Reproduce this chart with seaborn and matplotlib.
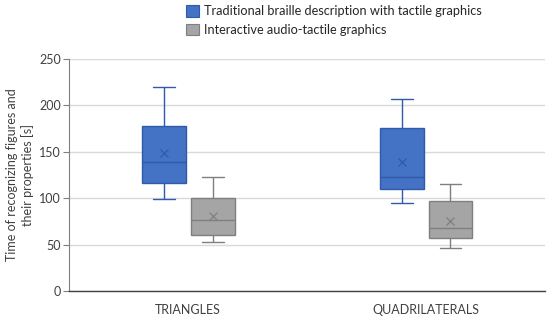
import pandas as pd
import seaborn as sns
import matplotlib.pyplot as plt
from matplotlib.patches import Patch

# Shapes on the x axis
shapes = ['TRIANGLES', 'QUADRILATERALS']
methods = ['Traditional braille description with tactile graphics',
           'Interactive audio-tactile graphics']

# Five-number summaries: min, Q1, median, Q3, max
braille_tri = [99.5, 116, 138.5, 178, 220]
braille_quad = [94.5, 110, 122.5, 175.5, 207]
audio_tri = [52.5, 60, 77, 100, 122.5]
audio_quad = [46.5, 57.5, 67.5, 96.5, 115]

# Means (the x markers)
braille_means = [148.5, 138.5]
audio_means = [80.5, 75]

fill_colors = ['#4472C4', '#A5A5A5']
line_colors = ['#2F5BAA', '#7F7F7F']


def main():
    rows = []
    for shape, vals in zip(shapes, [braille_tri, braille_quad]):
        rows += [{'Shape': shape, 'Method': methods[0], 'Time': v} for v in vals]
    for shape, vals in zip(shapes, [audio_tri, audio_quad]):
        rows += [{'Shape': shape, 'Method': methods[1], 'Time': v} for v in vals]
    df = pd.DataFrame(rows)

    means = pd.DataFrame({
        'Shape': shapes * 2,
        'Method': [methods[0]] * 2 + [methods[1]] * 2,
        'Time': braille_means + audio_means,
    })

    sns.set_style('white')
    plt.rcParams['font.family'] = ['Lato', 'DejaVu Sans']

    fig = plt.figure(figsize=(5.5, 3.17), dpi=100)
    ax = fig.add_axes([0.126, 0.082, 0.865, 0.732])

    sns.boxplot(data=df, x='Shape', y='Time', hue='Method', hue_order=methods,
                order=shapes, palette=fill_colors, linecolor=line_colors[1],
                width=0.41, gap=0.1, whis=10, linewidth=1.0,
                saturation=1, showfliers=False, legend=False, ax=ax)

    # colour box outlines, whiskers and medians by which side of the category they sit
    def side(xs):
        x = sum(xs) / len(xs)
        return 0 if x - round(x) < 0 else 1

    for p in ax.patches:
        verts = p.get_path().vertices
        p.set_edgecolor(line_colors[side(list(verts[:, 0]))])
    for ln in ax.lines:
        ln.set_color(line_colors[side(list(ln.get_xdata()))])

    sns.pointplot(data=means, x='Shape', y='Time', hue='Method',
                  hue_order=methods, order=shapes, palette=line_colors,
                  dodge=0.205, linestyle='none', marker='x', markersize=6,
                  markeredgewidth=0.9, errorbar=None, legend=False, ax=ax)

    ax.set_xlim(-0.5, 1.5)
    ax.set_ylim(0, 250)
    ax.set_yticks(range(0, 251, 50))
    ax.yaxis.grid(True, color='#D9D9D9', linewidth=1.0)
    ax.set_axisbelow(True)

    for s in ['top', 'right']:
        ax.spines[s].set_visible(False)
    ax.spines['left'].set_color('#7F7F7F')
    ax.spines['left'].set_linewidth(0.8)
    ax.spines['bottom'].set_color('#404040')
    ax.spines['bottom'].set_linewidth(1.0)
    ax.tick_params(axis='y', left=True, length=4, color='#7F7F7F',
                   labelsize=9, labelcolor='#404040', pad=2)
    ax.tick_params(axis='x', bottom=False, labelsize=9, labelcolor='#404040', pad=6)

    ax.set_xlabel('')
    ax.set_ylabel('Time of recognizing figures and\ntheir properties [s]',
                  fontsize=9, color='#404040', labelpad=4)

    handles = [Patch(facecolor=fc, edgecolor=lc, linewidth=0.8)
               for fc, lc in zip(fill_colors, line_colors)]
    fig.legend(handles, methods, loc='upper left', bbox_to_anchor=(0.318, 1.02),
               frameon=False, fontsize=9.2, handlelength=1.0, handleheight=1.0,
               labelspacing=0.5, handletextpad=0.4, labelcolor='#262626')

    plt.savefig('out.png', dpi=100)
    plt.close()


if __name__ == "__main__":
    main()
